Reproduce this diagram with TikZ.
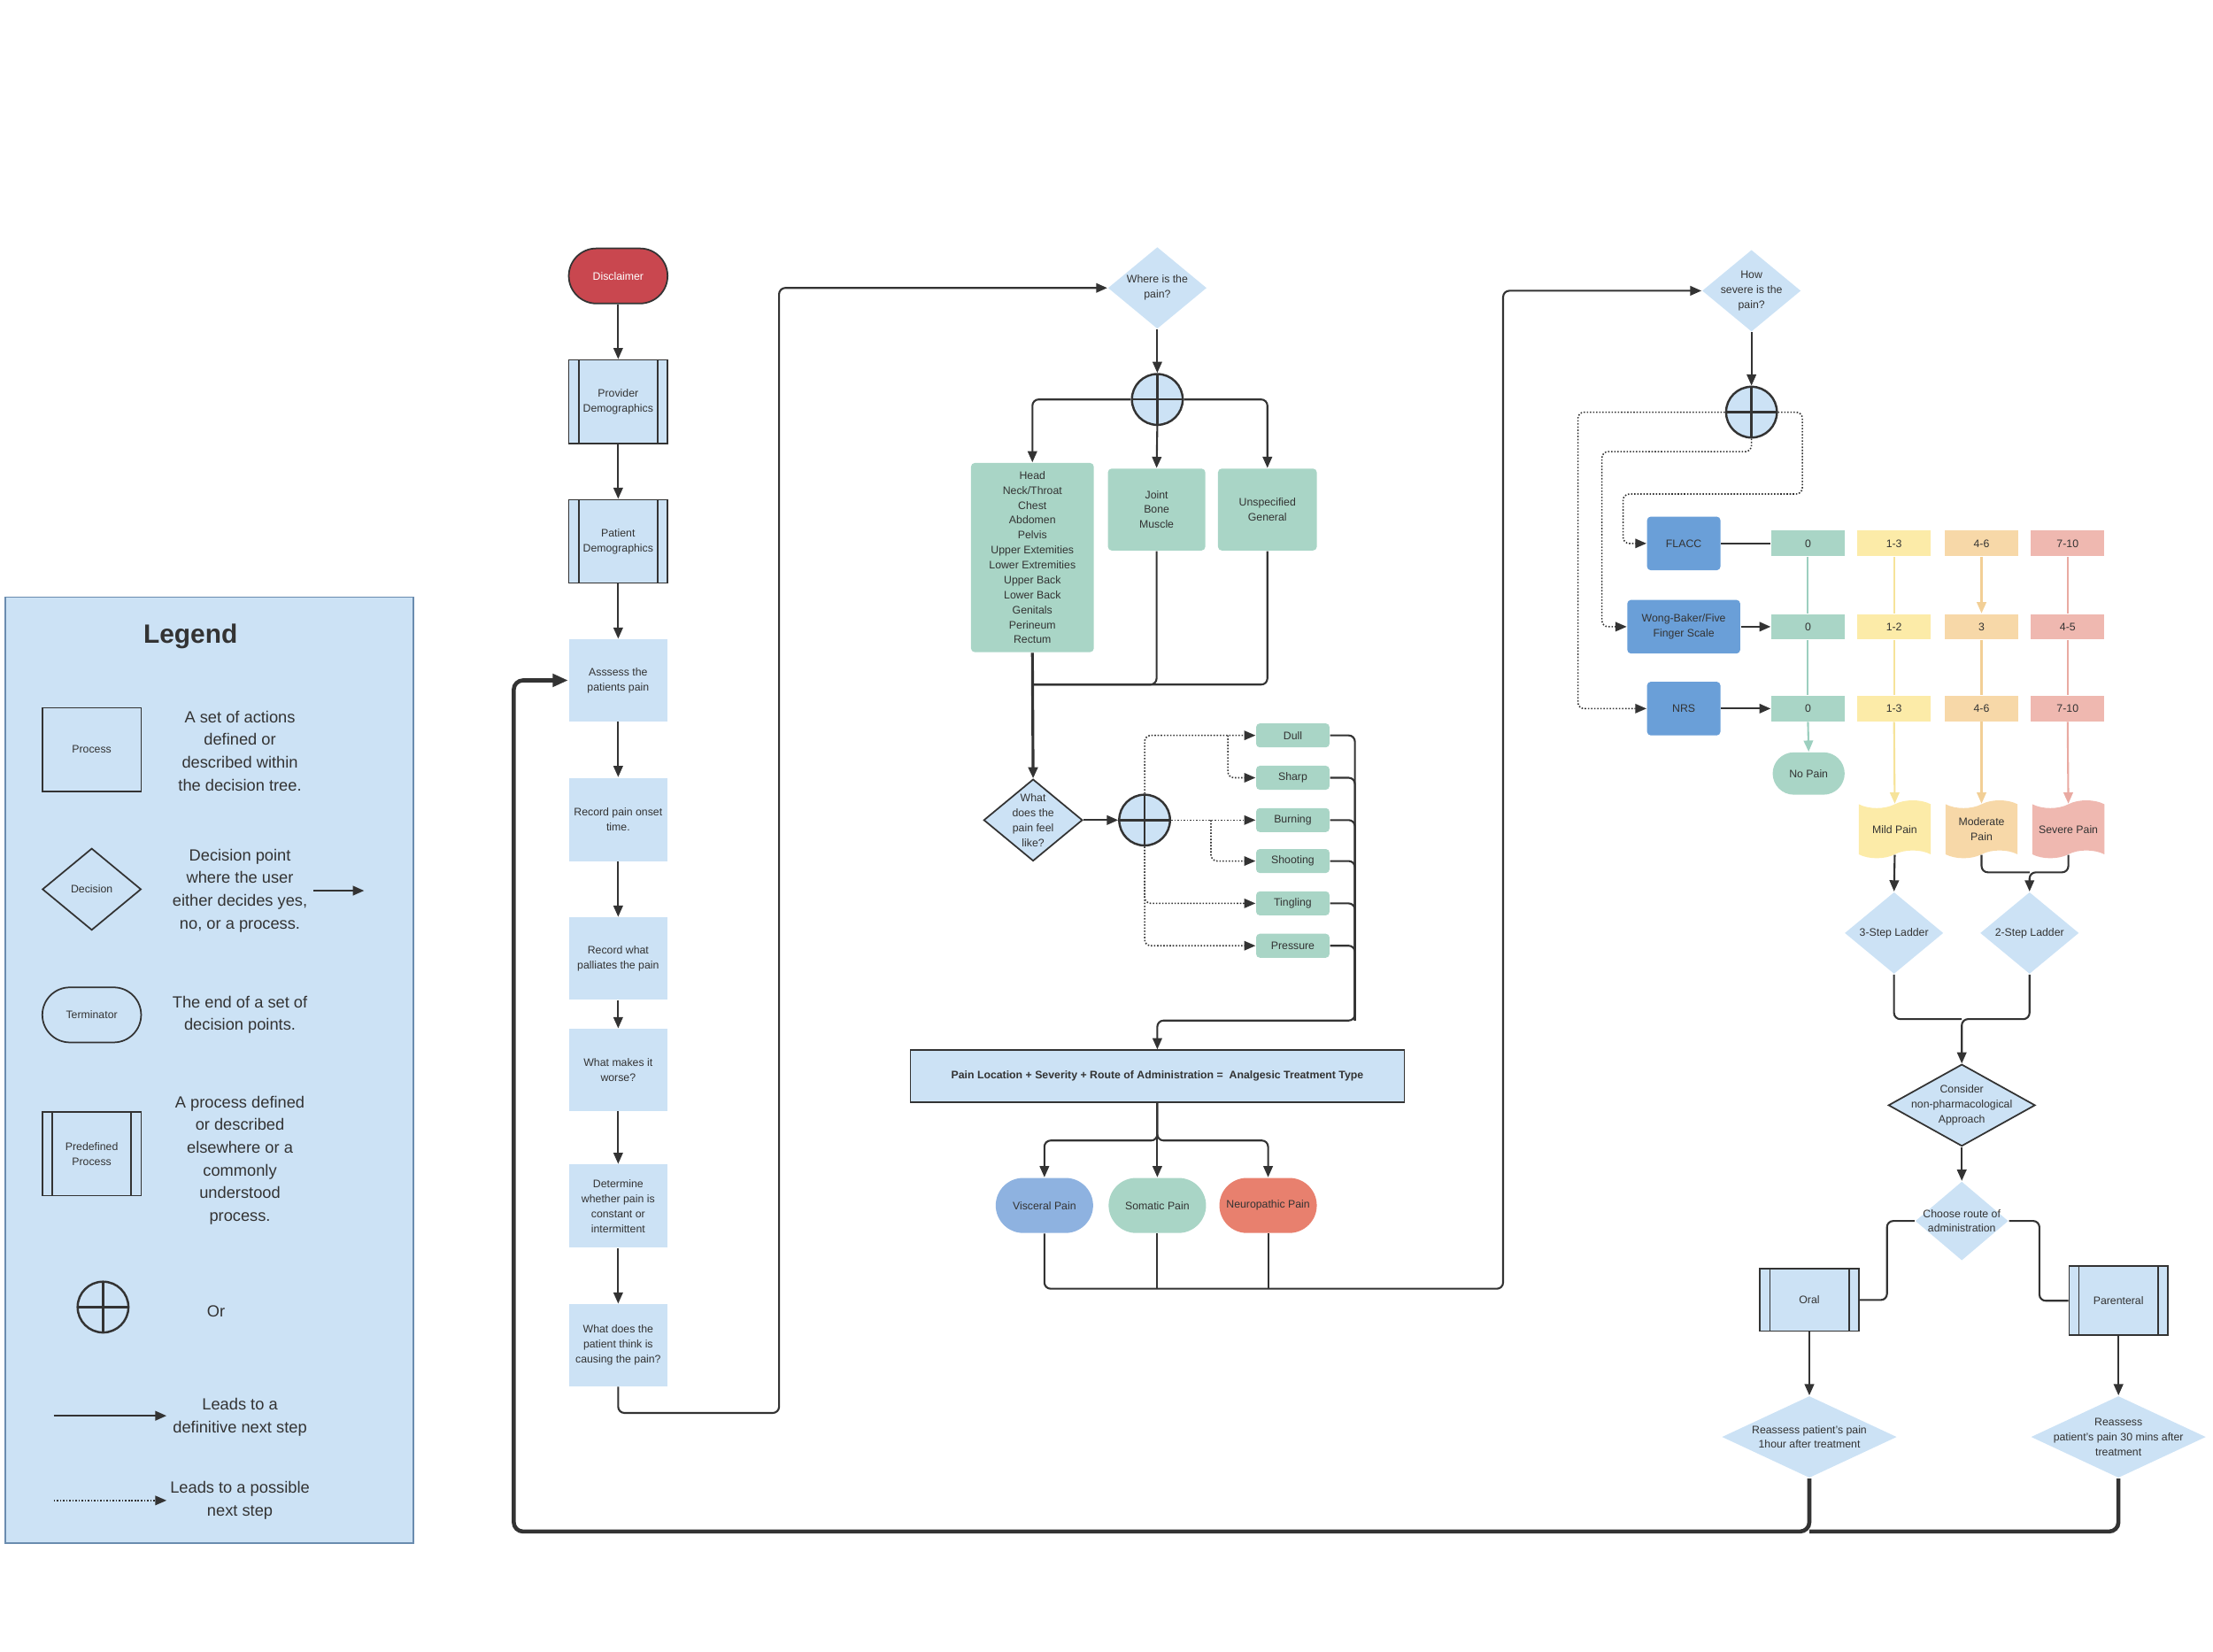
\documentclass[tikz,border=0pt]{standalone}
\usepackage{fontspec}
\setmainfont{Liberation Sans}
\usetikzlibrary{shapes.geometric,shapes.misc,shapes.symbols,arrows.meta}
\newdimen\pu \pu=0.01594cm
\definecolor{lb}{HTML}{CCE2F5}
\definecolor{ln}{HTML}{333333}
\definecolor{txt}{HTML}{333333}
\definecolor{gr}{HTML}{A9D5C6}
\definecolor{grl}{HTML}{9CCFBF}
\definecolor{bd}{HTML}{6A9FD8}
\definecolor{vis}{HTML}{8EB2E0}
\definecolor{neu}{HTML}{E8806E}
\definecolor{dred}{HTML}{C9474F}
\definecolor{ye}{HTML}{FCEBA8}
\definecolor{yel}{HTML}{F6E39A}
\definecolor{orf}{HTML}{F7D8A8}
\definecolor{orl}{HTML}{F2CF96}
\definecolor{pk}{HTML}{EFB8B0}
\definecolor{pkl}{HTML}{E9AAA2}
\definecolor{legb}{HTML}{6A8CAF}
\begin{document}
\begin{tikzpicture}[x=0.01594cm,y=-0.01594cm,
  font=\fontsize{3.5}{4.8}\selectfont, text=txt,
  base/.style={inner sep=0pt, align=center, text=txt},
  bx/.style 2 args={base, rectangle, minimum width=#1\pu, minimum height=#2\pu},
  proc/.style 2 args={bx={#1}{#2}, fill=lb},
  gbox/.style 2 args={bx={#1}{#2}, fill=gr, rounded corners=1.2pt},
  cell/.style={bx={52}{18}, fill=#1},
  predef/.style 2 args={bx={#1}{#2}, fill=lb, draw=ln, line width=0.5pt,
    path picture={\draw[ln, line width=0.5pt]
      ([xshift=7\pu]path picture bounding box.north west) -- ([xshift=7\pu]path picture bounding box.south west)
      ([xshift=-7\pu]path picture bounding box.north east) -- ([xshift=-7\pu]path picture bounding box.south east);}},
  term/.style 2 args={base, rounded rectangle, minimum width=#1\pu, minimum height=#2\pu},
  dia/.style n args={3}{base, diamond, minimum width=#1\pu, minimum height=#2\pu, fill=lb, label={[base]center:{#3}}},
  tp/.style={base, tape, tape bend height=2.5pt, minimum width=51\pu, minimum height=41\pu, fill=#1},
  orc/.style={circle, draw=ln, fill=lb, minimum size=36\pu, inner sep=0pt, line width=0.7pt,
    path picture={\draw[ln, line width=0.7pt] (path picture bounding box.north) -- (path picture bounding box.south)
      (path picture bounding box.west) -- (path picture bounding box.east);}},
  con/.style={draw=ln, line width=0.6pt, rounded corners=2pt},
  arr/.style={con, -{Triangle[length=3.6pt,width=3pt]}},
  dot/.style={con, line width=0.45pt, dash pattern=on 0.45pt off 0.55pt, -{Triangle[length=3.6pt,width=3pt]}},
  lt/.style={base, font=\fontsize{5.2}{7.3}\selectfont}
]
\useasboundingbox (0,0) rectangle (1568,1170);

% ---------------- Legend
\node[bx={289}{670}, fill=lb, draw=legb, line width=0.5pt] (leg) at (148.5,758) {};
\node[base, font=\bfseries\fontsize{8.5}{10}\selectfont] (legt) at (135,451) {Legend};
\node[proc={70}{59}, draw=ln, line width=0.5pt] (lp) at (65,531) {Process};
\node[lt] (lpt) at (170,532) {A set of actions\\defined or\\described within\\the decision tree.};
\node[dia={70}{58}{Decision}, draw=ln, line width=0.5pt] (ldec) at (65,630) {};
\node[lt] (ldect) at (170,631) {Decision point\\where the user\\either decides yes,\\no, or a process.};
\coordinate (la1) at (222,631); \coordinate (la2) at (258,631);
\draw[arr] (la1) -- (la2);
\node[term={70}{39}, fill=lb, draw=ln, line width=0.5pt] (lterm) at (65,719) {Terminator};
\node[lt] (ltermt) at (170,719) {The end of a set of\\decision points.};
\node[predef={70}{59}] (lpre) at (65,817.5) {Predefined\\Process};
\node[lt] (lpret) at (170,822) {A process defined\\or described\\elsewhere or a\\commonly\\understood\\process.};
\node[orc] (lor) at (73,926) {};
\node[lt] (lort) at (153,929) {Or};
\coordinate (ls1) at (38,1003); \coordinate (ls2) at (118,1003);
\draw[arr] (ls1) -- (ls2);
\node[lt] (lst) at (170,1004) {Leads to a\\definitive next step};
\coordinate (ld1) at (38,1063); \coordinate (ld2) at (118,1063);
\draw[dot] (ld1) -- (ld2);
\node[lt] (ldt) at (170,1063) {Leads to a possible\\next step};

% ---------------- Column 1
\node[term={70}{39}, fill=dred, draw=ln, line width=0.5pt, text=white] (dis) at (438,195.5) {Disclaimer};
\node[predef={70}{59}] (pd) at (438,284.5) {Provider\\Demographics};
\node[predef={70}{59}] (ptd) at (438,383.5) {Patient\\Demographics};
\node[proc={70}{58}] (as) at (438,482) {Asssess the\\patients pain};
\node[proc={70}{59}] (ro) at (438,580.5) {Record pain onset\\time.};
\node[proc={70}{58}] (rw) at (438,679) {Record what\\palliates the pain};
\node[proc={70}{58}] (mw) at (438,758) {What makes it\\worse?};
\node[proc={70}{59}] (det) at (438,854.5) {Determine\\whether pain is\\constant or\\intermittent};
\node[proc={70}{58}] (cause) at (438,953) {What does the\\patient think is\\causing the pain?};
\foreach \a/\b in {dis/pd,pd/ptd,ptd/as,as/ro,ro/rw,rw/mw,mw/det,det/cause}
  \draw[arr] (\a.south) -- (\b.north);

% ---------------- Column 2
\node[dia={70}{58}{Where is the\\pain?}] (where) at (820,204) {};
\draw[arr] (cause.south) -- (438,1001) -- (552,1001) -- (552,204) -- (where.west);
\node[orc] (or1) at (820,283) {};
\draw[arr] (where.south) -- (or1.north);
\node[gbox={87}{134}] (head) at (731.5,395) {Head\\Neck/Throat\\Chest\\Abdomen\\Pelvis\\Upper Extemities\\Lower Extremities\\Upper Back\\Lower Back\\Genitals\\Perineum\\Rectum};
\node[gbox={69}{58}] (joint) at (819.5,361) {Joint\\Bone\\Muscle};
\node[gbox={70}{58}] (unsp) at (898,361) {Unspecified\\General};
\draw[arr] (or1.west) -| (head.north);
\draw[arr] (or1.south) -- (joint.north);
\draw[arr] (or1.east) -| (unsp.north);
\draw[con] (joint.south) |- (732,485);
\draw[con] (unsp.south) |- (732,485);
\node[dia={70}{58}{What\\does the\\pain feel\\like?}, draw=ln, line width=0.5pt] (feel) at (732,581) {};
\draw[arr, line width=0.9pt] (head.south) -- (feel.north);
\node[orc] (or2) at (811,581) {};
\draw[arr] (feel.east) -- (or2.west);
\node[gbox={52}{17}] (dull) at (916,521) {Dull};
\node[gbox={52}{17}] (sharp) at (916,551) {Sharp};
\node[gbox={52}{17}] (burn) at (916,581) {Burning};
\node[gbox={52}{17}] (shoot) at (916,610) {Shooting};
\node[gbox={52}{17}] (ting) at (916,640) {Tingling};
\node[gbox={52}{17}] (press) at (916,670) {Pressure};
\draw[dot] (or2.north) |- (dull.west);
\draw[dot] (870,521) |- (sharp.west);
\draw[dot] (or2.east) -- (burn.west);
\draw[dot] (858,581) |- (shoot.west);
\draw[dot] (or2.south) |- (ting.west);
\draw[dot] (or2.south) |- (press.west);
\node[proc={350}{37}, draw=ln, line width=0.5pt, font=\bfseries\fontsize{3.5}{4.8}\selectfont] (loc) at (820,762.5) {Pain Location + Severity + Route of Administration =\ \ Analgesic Treatment Type};
\foreach \n in {sharp,burn,shoot,ting,press} \draw[con] (\n.east) -| (960,723);
\draw[arr] (dull.east) -| (960,723) -| (loc.north);
\node[term={69}{39}, fill=vis] (visc) at (740,854) {Visceral Pain};
\node[term={69}{39}, fill=gr] (som) at (820,854) {Somatic Pain};
\node[term={69}{39}, fill=neu] (neur) at (898.5,854) {Neuropathic Pain};
\draw[arr] (loc.south) -- (som.north);
\draw[arr] (loc.south) -- (820,808) -| (visc.north);
\draw[arr] (loc.south) -- (820,808) -| (neur.north);
\node[dia={70}{58}{How\\severe is the\\pain?}] (sev) at (1241,206) {};
\draw[con] (som.south) -- (820,913);
\draw[con] (neur.south) -- (898.5,913);
\draw[arr] (visc.south) |- (1065,913) -- (1065,206) -- (sev.west);

% ---------------- Column 3
\node[orc] (or3) at (1241,292) {};
\draw[arr] (sev.south) -- (or3.north);
\node[bx={52}{38}, fill=bd, rounded corners=1.2pt] (flacc) at (1193,385) {FLACC};
\node[bx={80}{38}, fill=bd, rounded corners=1.2pt] (wong) at (1193,444) {Wong-Baker/Five\\Finger Scale};
\node[bx={52}{38}, fill=bd, rounded corners=1.2pt] (nrs) at (1193,502) {NRS};
\draw[dot] (or3.west) -| (1118,502) -- (nrs.west);
\draw[dot] (or3.south) -- (1241,320) -| (1135,444) -- (wong.west);
\draw[dot] (or3.east) -| (1277,350) -| (1150,385) -- (flacc.west);

\node[cell=gr] (v10) at (1281,385) {0};
\node[cell=ye] (v11) at (1342,385) {1-3};
\node[cell=orf] (v12) at (1404,385) {4-6};
\node[cell=pk] (v13) at (1465,385) {7-10};
\node[cell=gr] (v20) at (1281,444) {0};
\node[cell=ye] (v21) at (1342,444) {1-2};
\node[cell=orf] (v22) at (1404,444) {3};
\node[cell=pk] (v23) at (1465,444) {4-5};
\node[cell=gr] (v30) at (1281,502) {0};
\node[cell=ye] (v31) at (1342,502) {1-3};
\node[cell=orf] (v32) at (1404,502) {4-6};
\node[cell=pk] (v33) at (1465,502) {7-10};
\draw[con] (flacc.east) -- (v10.west);
\draw[arr] (wong.east) -- (v20.west);
\draw[arr] (nrs.east) -- (v30.west);

\node[term={51}{30}, fill=gr] (nop) at (1281.5,548) {No Pain};
\node[tp=ye] (mild) at (1342.5,587.5) {Mild Pain};
\node[tp=orf] (mod) at (1404,587.5) {Moderate\\Pain};
\node[tp=pk] (sevp) at (1465.5,587.5) {Severe Pain};

\draw[con, draw=grl] (v10.south) -- (v20.north) (v20.south) -- (v30.north);
\draw[arr, draw=grl] (v30.south) -- (nop.north);
\draw[con, draw=yel] (v11.south) -- (v21.north) (v21.south) -- (v31.north);
\draw[arr, draw=yel] (v31.south) -- (mild.north);
\draw[arr, draw=orl] (v12.south) -- (v22.north);
\draw[con, draw=orl] (v22.south) -- (v32.north);
\draw[arr, draw=orl] (v32.south) -- (mod.north);
\draw[con, draw=pkl] (v13.south) -- (v23.north) (v23.south) -- (v33.north);
\draw[arr, draw=pkl] (v33.south) -- (sevp.north);

\node[dia={70}{58}{3-Step Ladder}] (st3) at (1342,661) {};
\node[dia={70}{58}{2-Step Ladder}] (st2) at (1438,661) {};
\draw[arr] (mild.south) -- (st3.north);
\draw[con] (mod.south) |- (1438,618);
\draw[arr] (sevp.south) |- (1438,618) -- (st2.north);
\node[dia={104}{58}{Consider\\non-pharmacological\\Approach}, draw=ln, line width=0.5pt] (cons) at (1390,783) {};
\draw[con] (st3.south) |- (1390,722);
\draw[arr] (st2.south) |- (1390,722) -- (cons.north);
\node[dia={66}{56}{Choose route of\\administration}] (choose) at (1390,865) {};
\draw[arr] (cons.south) -- (choose.north);
\node[predef={70}{44}] (oral) at (1282,921) {Oral};
\node[predef={70}{49}] (par) at (1501,921.5) {Parenteral};
\draw[con] (choose.west) -- (1337,865) |- (oral.east);
\draw[con] (choose.east) -- (1445,865) |- (par.west);
\node[dia={124}{58}{Reassess patient's pain\\1hour after treatment}] (re1) at (1282,1018) {};
\node[dia={124}{58}{Reassess\\patient's pain 30 mins after\\treatment}] (re2) at (1501,1018) {};
\draw[arr] (oral.south) -- (re1.north);
\draw[arr] (par.south) -- (re2.north);
\draw[con, line width=1.3pt, rounded corners=3pt] (re2.south) |- (1282,1085);
\draw[con, line width=1.3pt, rounded corners=3pt, -{Triangle[length=5pt,width=4pt]}] (re1.south) |- (364,1085) -- (364,482) -- (as.west);
\end{tikzpicture}
\end{document}
